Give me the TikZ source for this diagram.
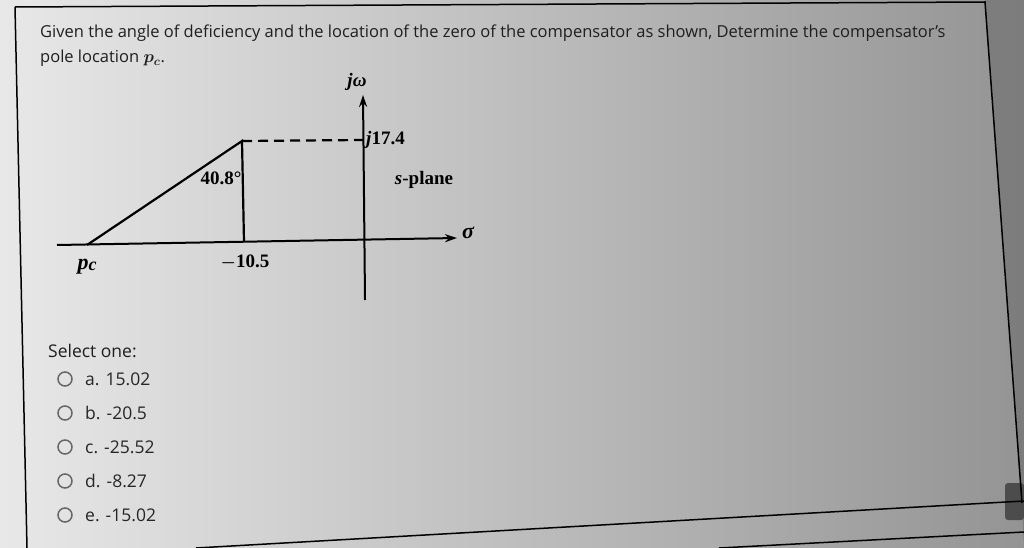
\documentclass[tikz,border=0pt]{standalone}
\usepackage{amsmath,amssymb}
\usepackage{fontspec}
\setmainfont{Open Sans}
\newfontfamily\figfont{Liberation Serif}
\usetikzlibrary{arrows.meta}
\begin{document}
\begin{tikzpicture}[x=1pt,y=-1pt]
			\tikzset{
				qtext/.style={anchor=base west,inner sep=0pt,font=\fontsize{16.5}{19}\selectfont,text=black!88},
				anstext/.style={anchor=west,inner sep=0pt,font=\fontsize{17.5}{20}\selectfont,text=black!85},
				figlabel/.style={inner sep=0pt,font=\figfont\bfseries\fontsize{19}{21}\selectfont},
				radio/.style={circle,draw=black!60,line width=1.5pt,minimum size=14pt,inner sep=0pt},
				axis/.style={line width=2pt,-{Stealth[length=12pt,width=8pt]}},
				figline/.style={line width=2.2pt},
				frame/.style={line width=1.5pt},
			}
			\useasboundingbox (0,0) rectangle (1024,548);
			% screen background
			\shade[left color=black!9, right color=black!42] (0,0) rectangle (1024,548);
			\fill[black!55,opacity=0.7] (985,0)--(1024,0)--(1024,548)--(1022,503)--cycle;
			\fill[black!70,rounded corners=3pt] (1005,483) rectangle (1024,520);
			% frame of the question
			\draw[frame] (15,7)--(985,2)--(1022,503);
			\draw[frame] (15,7)--(27,548);
			\draw[frame] (196,548)--(1006,502)--(1024,501);
			\draw[frame] (719,548)--(1024,532);
			% question text
			\node[qtext] (line1) at (40,38) {Given the angle of deficiency and the location of the zero of the compensator as shown, Determine the compensator's};
			\node[qtext] (line2) at (40,63) {pole location $\boldsymbol{p_c}$.};
			% s-plane
			\coordinate (origin) at (363,240);
			\coordinate (sigmaleft) at (57,245);
			\coordinate (sigmaright) at (457,238);
			\coordinate (jwtop) at (363,95);
			\coordinate (jwbottom) at (365,300);
			\coordinate (pc) at (87,245);
			\coordinate (top) at (242,141);
			\coordinate (zero) at (244,242);
			\coordinate (tick) at (363,140);
			\draw[axis] (sigmaleft)--(sigmaright);
			\draw[axis] (jwbottom)--(jwtop);
			\draw[figline] (pc)--(top)--(zero);
			\draw[figline,dash pattern=on 10pt off 6pt] (top)--(tick);
			\node[figlabel] (jw) at (357,82) {\itshape jω};
			\node[figlabel,font=\figfont\bfseries\fontsize{22}{22}\selectfont] (sigma) at (468,233) {\itshape σ};
			\node[figlabel,anchor=west] (jlab) at (366,140) {\textit{j}17.4};
			\node[figlabel] (angle) at (221,178) {40.8°};
			\node[figlabel] (splane) at (424,180) {\textit{s}-plane};
			\node[figlabel] (pclab) at (87,267) {\fontsize{22}{22}\selectfont\itshape p\raisebox{-1pt}{\fontsize{18}{18}\selectfont c}};
			\node[figlabel] (zerolab) at (245,262) {$\boldsymbol{-}$10.5};
			% answers
			\node[qtext,font=\fontsize{17.5}{20}\selectfont] (select) at (48,357) {Select one:};
			\foreach \y/\ans [count=\i] in {379/a. 15.02,413/b. -20.5,447/c. -25.52,481/d. -8.27,515/e. -15.02}{
				\node[radio] (r\i) at (65,\y) {};
				\node[anstext] (a\i) at (85,\y) {\ans};
			}
			\end{tikzpicture}
\end{document}
